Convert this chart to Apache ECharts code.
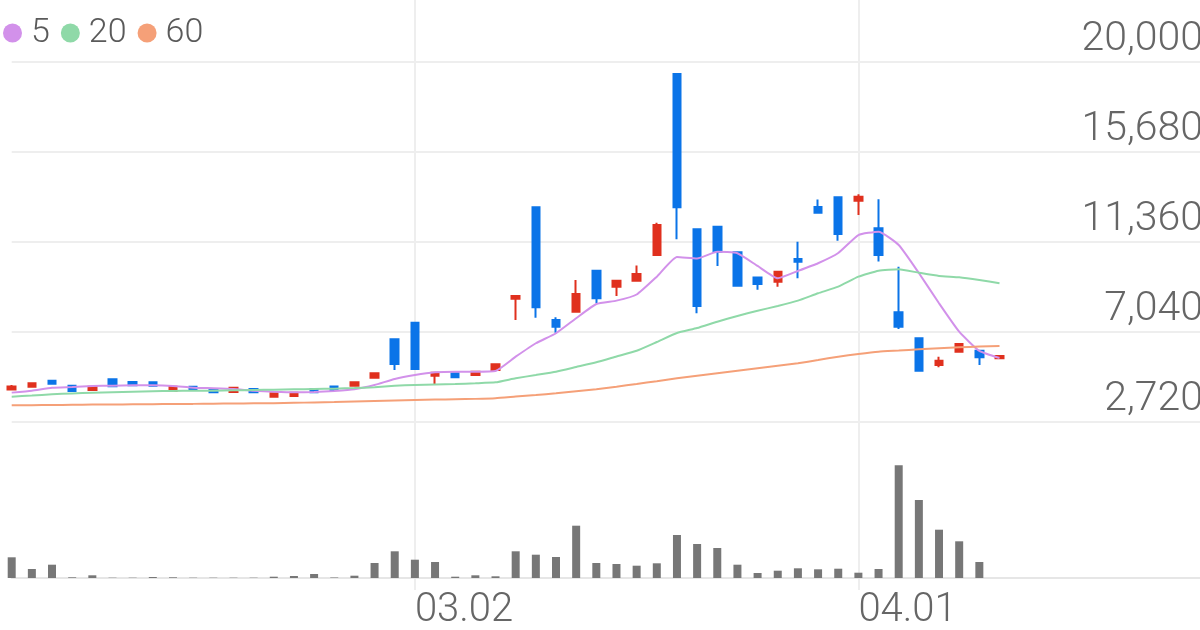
<!DOCTYPE html>
<html>
<head>
<meta charset="utf-8">
<script src="https://cdn.jsdelivr.net/npm/echarts@6/dist/echarts.min.js"></script>
<style>
html,body{margin:0;padding:0;background:#fff;}
#chart{width:1200px;height:630px;}
</style>
</head>
<body>
<div id="chart"></div>
<script>
// Trading days (MM.DD); last 10 are empty future slots
const categories = [
  '02.03','02.04','02.05','02.06','02.07','02.10','02.11','02.12','02.13','02.14',
  '02.17','02.18','02.19','02.20','02.21','02.24','02.25','02.26','02.27','02.28',
  '03.02','03.03','03.04','03.05','03.06','03.09','03.10','03.11','03.12','03.13',
  '03.16','03.17','03.18','03.19','03.20','03.23','03.24','03.25','03.26','03.27',
  '03.30','03.31','04.01','04.02','04.03','04.06','04.07','04.08','04.09','04.10',
  '04.13','04.14','04.16','04.17','04.20','04.21','04.22','04.23','04.24','04.27'
];
const labelDates = ['03.02', '04.01'];
const priceTicks = [2720, 7040, 11360, 15680, 20000];

const openVals  = [4280,4415,4700,4460,4255,4770,4640,4625,4210,4415,
                   4305,4160,4305,3935,3970,4290,4425,4460,4845,6690,
                   7485,4940,5060,4975,5215,8640,13025,7615,8015,9980,
                   9215,9500,10735,19425,11970,12095,10865,9660,9455,10545,
                   13040,13505,13345,12020,7985,6740,5455,6095,6140,5780];
const closeVals = [4424,4580,4560,4210,4415,4435,4480,4460,4415,4255,
                   4145,4365,4145,4100,4130,4145,4255,4625,5060,5505,
                   5265,5085,4865,5135,5490,8770,8225,7295,8865,8660,
                   9500,9825,12175,13025,8290,10895,9265,9345,9935,10415,
                   12765,11745,13535,10735,7295,5185,5665,6465,5825,5890];
const lowVals   = [4256,4400,4545,4200,4240,4425,4470,4420,4200,4245,
                   4135,4150,4135,3925,3960,4135,4245,4450,4835,5215,
                   5250,4500,4855,4965,5205,7615,7725,7005,8000,8420,
                   8770,9490,10720,11490,7940,10210,9220,9070,9215,9620,
                   12750,11420,12655,10420,7185,5135,5345,6060,5455,5770];
const highVals  = [4496,4600,4720,4470,4430,4780,4650,4635,4425,4425,
                   4315,4375,4315,4110,4140,4300,4435,4635,5075,6700,
                   7500,5095,5070,5145,5505,8780,13040,7750,9535,9995,
                   9515,10230,12285,19440,11985,12110,10880,9675,9950,11375,
                   13400,13520,13650,13410,10175,6755,5855,6500,6155,5895];

const ma5  = [4130,4220,4365,4400,4450,4460,4480,4480,4450,4365,
              4340,4305,4220,4175,4145,4160,4210,4290,4495,4785,
              4975,5105,5135,5135,5168,5855,6500,6980,7700,8385,
              8545,8840,9695,10640,10570,10895,10820,10210,9620,9970,
              10340,10830,11695,11855,11215,9870,8420,7055,6130,5790];
const ma20 = [3935,3990,4050,4090,4125,4150,4175,4195,4210,4220,
              4225,4240,4255,4270,4290,4305,4320,4350,4385,4460,
              4495,4520,4545,4580,4625,4820,4975,5135,5360,5585,
              5865,6140,6560,6990,7230,7535,7810,8060,8290,8545,
              8900,9215,9695,9980,10050,9885,9730,9665,9535,9380];
const ma60 = [3520,3530,3535,3545,3555,3560,3570,3575,3585,3590,
              3600,3605,3615,3620,3640,3660,3680,3705,3730,3755,
              3775,3795,3815,3830,3860,3940,4015,4100,4195,4290,
              4415,4545,4680,4820,4940,5060,5180,5300,5420,5540,
              5695,5855,5985,6095,6150,6210,6260,6305,6340,6370];

// volume (thousand shares)
const volumes = [1035,450,665,35,135,15,15,50,35,15,
                 15,15,15,65,100,200,25,115,750,1335,
                 915,800,65,135,85,1335,1165,1050,2615,750,
                 700,615,735,2150,1700,1500,665,250,365,485,
                 435,465,265,450,5635,3900,2415,1835,800,0];

const candleData = openVals.map((o, i) => [o, closeVals[i], lowVals[i], highVals[i]]);

const UP = '#e0301e', DOWN = '#0b74e8';
const C5 = '#d291ea', C20 = '#8fd9a8', C60 = '#f5a078';
const FONT = 'Roboto';

const gridLeft = 11.7, gridWidth = 1189.4;
const showLabel = (idx, val) => labelDates.indexOf(val) >= 0;

const chart = echarts.init(document.getElementById('chart'), null, {renderer: 'canvas'});
chart.setOption({
  animation: false,
  backgroundColor: '#ffffff',
  legend: {
    data: ['5', '20', '60'],
    left: -2, top: 11,
    icon: 'circle',
    itemWidth: 19, itemHeight: 19, itemGap: 11,
    textStyle: {fontFamily: FONT, fontSize: 34, fontWeight: 300, color: '#5a5a5a', padding: [0, 0, 0, 4]}
  },
  grid: [
    {left: gridLeft, width: gridWidth, top: 62, height: 360, outerBoundsMode: 'none', containLabel: false},
    {left: gridLeft, width: gridWidth, top: 458, height: 120, outerBoundsMode: 'none', containLabel: false},
    {left: gridLeft, width: gridWidth, top: 0, height: 590, outerBoundsMode: 'none', containLabel: false}
  ],
  xAxis: [
    {type: 'category', gridIndex: 0, data: categories, boundaryGap: false,
     axisLine: {show: false}, axisTick: {show: false}, axisLabel: {show: false}, splitLine: {show: false}},
    {type: 'category', gridIndex: 1, data: categories, boundaryGap: false,
     axisLine: {show: true, lineStyle: {color: '#e6e6e6', width: 2}}, axisTick: {show: false},
     axisLabel: {show: false}, splitLine: {show: false}},
    {type: 'category', gridIndex: 2, data: categories, boundaryGap: false,
     axisLine: {show: false}, axisTick: {show: false},
     axisLabel: {show: true, interval: showLabel, align: 'left', verticalAlign: 'top', margin: 1,
                 fontFamily: FONT, fontSize: 40, fontWeight: 300, color: '#666666'},
     splitLine: {show: true, interval: showLabel, lineStyle: {color: '#eeeeee', width: 2}}}
  ],
  yAxis: [
    {type: 'value', gridIndex: 0, position: 'right',
     min: priceTicks[0], max: priceTicks[priceTicks.length - 1], interval: priceTicks[1] - priceTicks[0],
     axisLine: {show: false}, axisTick: {show: false},
     axisLabel: {inside: true, margin: -2, verticalAlign: 'bottom', padding: [0, 0, 2, 0],
                 fontFamily: FONT, fontSize: 41, fontWeight: 300, color: '#666666',
                 formatter: v => v.toLocaleString('en-US')},
     splitLine: {show: true, lineStyle: {color: '#eeeeee', width: 2}}},
    {type: 'value', gridIndex: 1, min: 0, max: 6000, show: false, splitLine: {show: false}},
    {type: 'value', gridIndex: 2, min: 0, max: 1, show: false, splitLine: {show: false}}
  ],
  series: [
    {type: 'candlestick', xAxisIndex: 0, yAxisIndex: 0, data: candleData, clip: false,
     barWidth: 8,
     itemStyle: {color: UP, color0: DOWN, borderColor: UP, borderColor0: DOWN, borderWidth: 2}},
    {name: '5', type: 'line', xAxisIndex: 0, yAxisIndex: 0, data: ma5, showSymbol: false, smooth: 0.15,
     lineStyle: {color: C5, width: 2}, itemStyle: {color: C5}},
    {name: '20', type: 'line', xAxisIndex: 0, yAxisIndex: 0, data: ma20, showSymbol: false, smooth: 0.15,
     lineStyle: {color: C20, width: 2}, itemStyle: {color: C20}},
    {name: '60', type: 'line', xAxisIndex: 0, yAxisIndex: 0, data: ma60, showSymbol: false, smooth: 0.15,
     lineStyle: {color: C60, width: 2}, itemStyle: {color: C60}},
    {type: 'bar', xAxisIndex: 1, yAxisIndex: 1, data: volumes, barWidth: 8, clip: false,
     itemStyle: {color: '#777777'}}
  ]
});
</script>
</body>
</html>
